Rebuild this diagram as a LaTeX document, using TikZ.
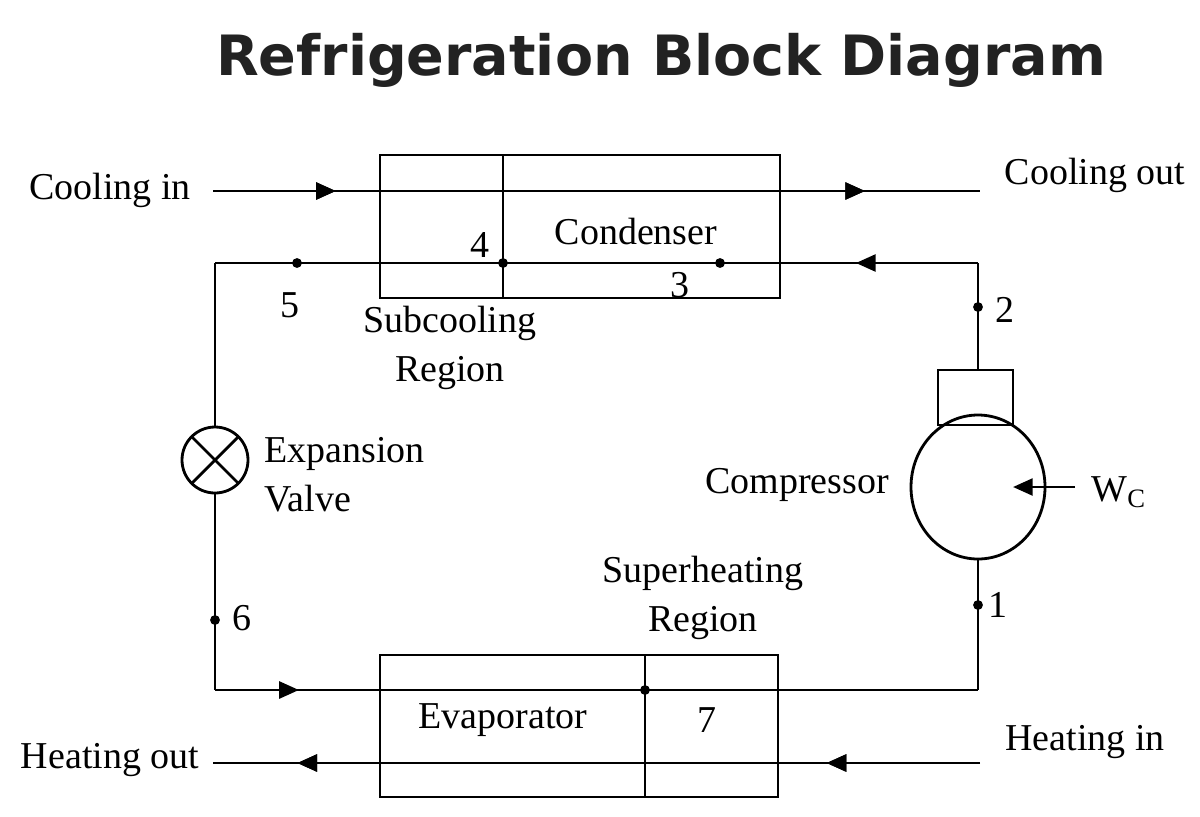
\documentclass[tikz,border=0pt]{standalone}
\usepackage{fontspec}
\setmainfont{Liberation Serif}
\newfontfamily\titlefont{DejaVu Sans}
\usetikzlibrary{arrows.meta,decorations.markings}
\definecolor{titlegray}{HTML}{222222}
\begin{document}
\begin{tikzpicture}[x=0.025cm,y=-0.025cm,line width=2pt,
  lbl/.style={font=\fontsize{27}{31}\selectfont,inner sep=0pt},
  dot/.style={circle,fill,inner sep=0pt,minimum size=7pt},
  mk/.style={postaction={decorate},decoration={markings,mark=at position #1 with {\arrow{Triangle[length=14pt,width=12pt]}}}}]
\useasboundingbox (0,0) rectangle (1200,816);
\node[text=titlegray,font=\titlefont\bfseries\fontsize{39.5}{44}\selectfont] (title) at (661,60) {Refrigeration Block Diagram};
% boxes
\draw (380,155) rectangle (780,298);
\draw (503,155) -- (503,298);
\draw (380,655) rectangle (778,797);
\draw (645,655) -- (645,797);
% cooling
\coordinate (ci) at (213,191); \coordinate (co) at (980,191);
\draw[mk=0.16,mk=0.85] (ci) -- (co);
% refrigerant loop
\coordinate (tr) at (978,263); \coordinate (tl) at (215,263);
\coordinate (bl) at (215,690); \coordinate (br) at (978,690);
\draw[mk=0.16] (tr) -- (tl);
\draw (tl) -- (215,427); \draw (215,493) -- (bl);
\draw[mk=0.11] (bl) -- (br);
\draw (br) -- (978,559);
\draw (tr) -- (978,370);
\draw (938,370) rectangle (1013,425);
\draw (978,487) ellipse [x radius=67,y radius=72];
\draw (215,460) circle [radius=33];
\draw (215,460) ++(-23.3,-23.3) -- ++(46.6,46.6);
\draw (215,460) ++(-23.3,23.3) -- ++(46.6,-46.6);
% heating
\coordinate (hi) at (980,763); \coordinate (ho) at (213,763);
\draw[mk=0.2,mk=0.89] (hi) -- (ho);
% work arrow
\coordinate (wc) at (1075,487);
\draw[-{Triangle[length=14pt,width=12pt]}] (wc) -- (1013,487);
% dots
\foreach \p in {(297,263),(503,263),(720,263),(978,307),(978,605),(215,620),(645,690)} \node[dot] at \p {};
% labels
\node[lbl] at (110,190) {Cooling in};
\node[lbl] at (1095,175) {Cooling out};
\node[lbl] at (636,232) {Condenser};
\node[lbl] at (480,245) {4};
\node[lbl] at (680,285) {3};
\node[lbl] at (290,305) {5};
\node[lbl,align=center] at (450,348) {Subcooling\\[4pt]Region};
\node[lbl,align=left,anchor=west] at (263,475) {Expansion\\[4pt]Valve};
\node[lbl] at (797,485) {Compressor};
\node[lbl] at (1005,310) {2};
\node[lbl] at (998,605) {1};
\node[lbl] at (242,618) {6};
\node[lbl,align=center] at (703,598) {Superheating\\[4pt]Region};
\node[lbl] at (503,720) {Evaporator};
\node[lbl] at (707,720) {7};
\node[lbl] at (110,760) {Heating out};
\node[lbl] at (1085,742) {Heating in};
\node[lbl,anchor=west] at (1090,492) {W\textsubscript{C}};
\end{tikzpicture}
\end{document}
